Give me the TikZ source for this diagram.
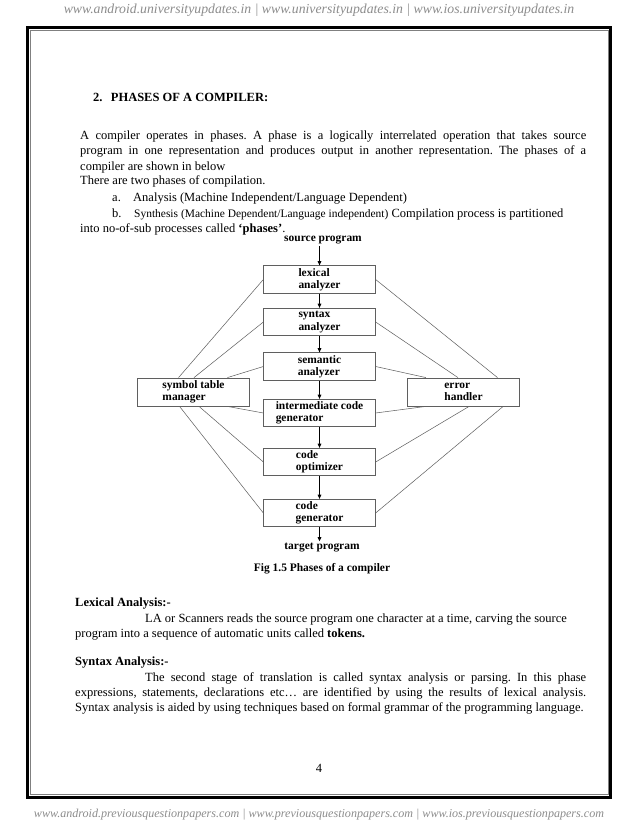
\documentclass[tikz,border=0pt]{standalone}
\usepackage{fontspec}
\setmainfont{Liberation Serif}
\usetikzlibrary{arrows.meta}

\definecolor{webgray}{RGB}{140,140,140}
\definecolor{boxline}{RGB}{95,95,95}

\tikzset{
  txt/.style={anchor=base west,inner sep=0pt,font=\fontsize{12}{14}\selectfont},
  bold/.style={txt,font=\fontsize{12}{14}\selectfont\bfseries},
  web/.style={anchor=base,inner sep=0pt,text=webgray},
  lbl/.style={inner sep=2pt,font=\fontsize{11}{12}\selectfont\bfseries},
  phase/.style={draw=boxline,line width=0.8pt,minimum width=107pt,minimum height=26.4pt,
    inner sep=1pt,align=left,font=\fontsize{11}{11.8}\selectfont\bfseries},
  link/.style={draw=boxline,line width=0.5pt},
  flow/.style={-{Triangle[length=4pt,width=3.6pt]},line width=0.7pt},
}
% one justified line of given width
\newcommand\fullline[2]{\makebox[#1][s]{#2}}
\frenchspacing

\begin{document}
\begin{tikzpicture}[x=0.96pt,y=-0.96pt]
    \useasboundingbox (0,0) rectangle (638,826);
    %% page frame
    \draw[line width=2.9pt] (27.5,27.5) rectangle (610.5,797.5);
    \draw[gray,line width=0.9pt] (30.5,30.5) rectangle (608,794.5);
    %% header and footer
    \node[web,font=\fontsize{13.2}{15}\selectfont\itshape] (hdr) at (319,14)
        {www.android.universityupdates.in | www.universityupdates.in | www.ios.universityupdates.in};
    \node[web,font=\fontsize{11.6}{14}\selectfont\itshape] (ftr) at (319,817)
        {www.android.previousquestionpapers.com | www.previousquestionpapers.com | www.ios.previousquestionpapers.com};
    %% heading and first paragraph
    \node[bold] (head) at (93,102) {2.\hspace{8pt}PHASES OF A COMPILER:};
    \node[txt] (p1) at (80,140) {\fullline{485.8pt}{A compiler operates in phases. A phase is a logically interrelated operation that takes source}};
    \node[txt] (p2) at (80,155) {\fullline{485.8pt}{program in one representation and produces output in another representation. The phases of a}};
    \node[txt] (p3) at (80,170) {compiler are shown in below};
    \node[txt] (p4) at (80,185) {There are two phases of compilation.};
    \node[txt] (ia) at (112,201) {a.};
    \node[txt] (ta) at (133,201) {Analysis (Machine Independent/Language Dependent)};
    \node[txt] (ib) at (112,217) {b.};
    \node[txt] (tb) at (134,217) {{\fontsize{11}{13}\selectfont Synthesis (Machine Dependent/Language independent)} Compilation process is partitioned};
    \node[txt] (p7) at (80,232) {into no-of-sub processes called \textbf{`phases'}.};
    %% phases
    \node[lbl] (src) at (323,240) {source program};
    \node[phase] (lex) at (319.5,279.5) {lexical\\analyzer};
    \node[phase] (syn) at (319.5,322) {syntax\\analyzer};
    \node[phase] (sem) at (319.5,366.5) {semantic\\analyzer};
    \node[phase] (imc) at (319.5,413) {intermediate code\\generator};
    \node[phase] (opt) at (319.5,462) {code\\optimizer};
    \node[phase] (gen) at (319.5,513) {code\\generator};
    \node[lbl] (tgt) at (322,548) {target program};
    \node[lbl] (cap) at (322,569) {Fig 1.5 Phases of a compiler};
    %% side boxes
    \node[phase,minimum height=26.9pt] (sym) at (193.5,392) {symbol table\\manager};
    \node[phase,minimum height=26.9pt] (err) at (463.5,392) {error\\handler};
    %% flow
    \draw[flow] (src.south -| lex.north) -- (lex.north);
    \draw[flow] (lex) -- (syn);
    \draw[flow] (syn) -- (sem);
    \draw[flow] (sem) -- (imc);
    \draw[flow] (imc) -- (opt);
    \draw[flow] (opt) -- (gen);
    \draw[flow] (gen.south) -- (gen.south |- tgt.north);
    %% symbol table links
    \draw[link] (lex.west) -- (sym.136);
    \draw[link] (syn.west) -- (sym.88);
    \draw[link] (sem.west) -- (sym.23);
    \draw[link] (imc.west) -- (sym.337);
    \draw[link] (opt.west) -- (sym.291);
    \draw[link] (gen.west) -- (sym.226);
    %% error handler links
    \draw[link] (lex.east) -- (err.23);
    \draw[link] (syn.east) -- (err.111);
    \draw[link] (sem.east) -- (err.159);
    \draw[link] (imc.east) -- (err.201);
    \draw[link] (opt.east) -- (err.291);
    \draw[link] (gen.east) -- (err.340);
    %% lexical and syntax analysis
    \node[bold] (lexh) at (75,606) {Lexical Analysis:-};
    \node[txt] (lx1) at (145,622) {LA or Scanners reads the source program one character at a time, carving the source};
    \node[txt] (lx2) at (75,637) {program into a sequence of automatic units called \textbf{tokens.}};
    \node[bold] (synh) at (75,665) {Syntax Analysis:-};
    \node[txt] (sx1) at (145,681) {\fullline{423.4pt}{The second stage of translation is called syntax analysis or parsing. In this phase}};
    \node[txt] (sx2) at (75,696) {\fullline{490.6pt}{expressions, statements, declarations etc… are identified by using the results of lexical analysis.}};
    \node[txt] (sx3) at (75,711) {Syntax analysis is aided by using techniques based on formal grammar of the programming language.};
    %% page number
    \node[txt,anchor=base] (pg) at (319,772) {4};
\end{tikzpicture}
\end{document}
